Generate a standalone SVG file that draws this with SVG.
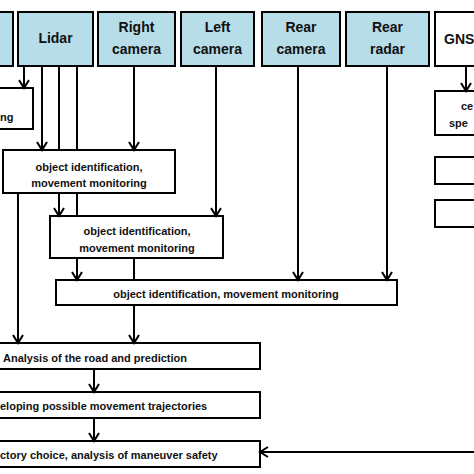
<svg xmlns="http://www.w3.org/2000/svg" width="474" height="474" viewBox="0 0 474 474">
<style>
.s{fill:#b7dde8;stroke:#000;stroke-width:2}
.w{fill:#fff;stroke:#000;stroke-width:2}
.t{font-family:"Liberation Sans",Arial,sans-serif;font-weight:bold;font-size:14px;fill:#111;text-anchor:middle}
.b{font-family:"Liberation Sans",Arial,sans-serif;font-weight:bold;font-size:11px;fill:#111;text-anchor:middle}
.l{text-anchor:start}
.c line{stroke:#000;stroke-width:2;fill:none}
.c line.a{marker-end:url(#ar)}
</style>
<defs>
<marker id="ar" markerUnits="userSpaceOnUse" markerWidth="12" markerHeight="12" viewBox="0 0 12 12" refX="10" refY="6" orient="auto">
<path d="M2,1 L10,6 L2,11" fill="none" stroke="#000" stroke-width="2"/>
</marker>
</defs>
<rect x="0" y="0" width="474" height="474" fill="#fff"/>
<g id="sensor0"><rect class="s" x="-10" y="12" width="23" height="54"/></g>
<g id="lidar"><rect class="s" x="18" y="12" width="75" height="54"/><text class="t" x="55.5" y="43">Lidar</text></g>
<g id="rightcam"><rect class="s" x="98" y="12" width="77" height="54"/><text class="t" x="136.5" y="32">Right</text><text class="t" x="136.5" y="54">camera</text></g>
<g id="leftcam"><rect class="s" x="181" y="12" width="73" height="54"/><text class="t" x="217.5" y="32">Left</text><text class="t" x="217.5" y="54">camera</text></g>
<g id="rearcam"><rect class="s" x="262" y="12" width="78" height="54"/><text class="t" x="301" y="32">Rear</text><text class="t" x="301" y="54">camera</text></g>
<g id="rearradar"><rect class="s" x="346" y="12" width="83" height="54"/><text class="t" x="387.5" y="32">Rear</text><text class="t" x="387.5" y="54">radar</text></g>
<g id="gnss"><rect class="w" x="435" y="12" width="50" height="54"/><text class="t l" x="444" y="44">GNS</text></g>
<g id="speed"><rect class="w" x="435" y="91" width="50" height="44"/><text class="b l" x="461" y="110">ce</text><text class="b l" x="449" y="127">spe</text></g>
<g id="rbox1"><rect class="w" x="435" y="157" width="50" height="27"/></g>
<g id="rbox2"><rect class="w" x="435" y="200" width="50" height="27"/></g>
<g id="leftbox"><rect class="w" x="-10" y="88" width="43" height="41"/><text class="b l" x="0" y="121">ng</text></g>
<g id="obj1"><rect class="w" x="3" y="150" width="172" height="43"/><text class="b" x="89" y="171">object identification,</text><text class="b" x="89" y="187">movement monitoring</text></g>
<g id="obj2"><rect class="w" x="50" y="216" width="173" height="42"/><text class="b" x="137" y="235">object identification,</text><text class="b" x="137" y="252">movement monitoring</text></g>
<g id="obj3"><rect class="w" x="56" y="280" width="341" height="25"/><text class="b" x="226" y="298">object identification, movement monitoring</text></g>
<g id="analysis"><rect class="w" x="-10" y="343" width="270" height="26"/><text class="b l" x="3" y="362">Analysis of the road and prediction</text></g>
<g id="develop"><rect class="w" x="-10" y="392" width="270" height="26"/><text class="b l" x="0" y="410">eloping possible movement trajectories</text></g>
<g id="choice"><rect class="w" x="-10" y="441" width="270" height="26"/><text class="b l" x="0" y="459">ctory choice, analysis of maneuver safety</text></g>
<g class="c" id="connectors">
<line class="a" x1="24" y1="66" x2="24" y2="88"/>
<line class="a" x1="42" y1="66" x2="42" y2="150"/>
<line x1="59" y1="66" x2="59" y2="150"/>
<line x1="77" y1="66" x2="77" y2="150"/>
<line class="a" x1="134" y1="66" x2="134" y2="150"/>
<line class="a" x1="216" y1="66" x2="216" y2="216"/>
<line class="a" x1="298" y1="66" x2="298" y2="280"/>
<line class="a" x1="387" y1="66" x2="387" y2="280"/>
<line class="a" x1="466" y1="66" x2="466" y2="91"/>
<line class="a" x1="18" y1="193" x2="18" y2="343"/>
<line class="a" x1="59" y1="193" x2="59" y2="216"/>
<line x1="77" y1="193" x2="77" y2="216"/>
<line class="a" x1="77" y1="258" x2="77" y2="280"/>
<line x1="134" y1="258" x2="134" y2="280"/>
<line class="a" x1="134" y1="305" x2="134" y2="343"/>
<line class="a" x1="94" y1="369" x2="94" y2="392"/>
<line class="a" x1="94" y1="418" x2="94" y2="441"/>
<line class="a" x1="476" y1="452" x2="260" y2="452"/>
</g>
</svg>
